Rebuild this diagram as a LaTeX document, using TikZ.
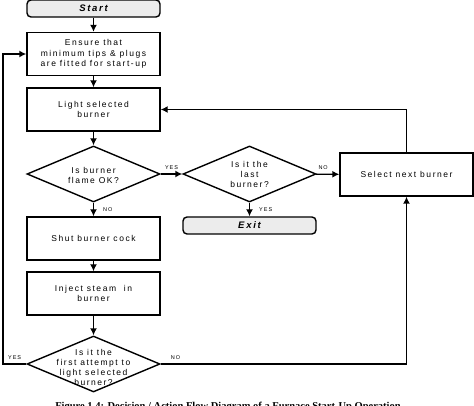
\documentclass[tikz,border=0pt]{standalone}
\usepackage{fontspec}
\setmainfont{Liberation Serif}
\newfontfamily\chartfont[LetterSpace=18]{Liberation Sans}
\usetikzlibrary{shapes.geometric}
\usetikzlibrary{arrows.meta}

\begin{document}
\begin{tikzpicture}[x=1pt, y=-1pt,
    action/.style={draw, line width=1.4pt, minimum width=133pt, minimum height=43pt, inner sep=0pt, align=center, font=\chartfont\fontsize{8.5}{10.5}\selectfont},
    terminal/.style={draw, line width=1.4pt, rounded corners=4pt, fill=gray!15, minimum width=133pt, minimum height=17pt, inner sep=0pt, font=\chartfont\fontsize{9.5}{11}\selectfont\bfseries\itshape},
    decision/.style={draw, diamond, line width=1.4pt, minimum width=133pt, minimum height=56pt, inner sep=0pt},
    question/.style={align=center, inner sep=0pt, font=\chartfont\fontsize{8.5}{10}\selectfont},
    answer/.style={inner sep=0pt, font=\chartfont\fontsize{5.5}{6}\selectfont},
    flow/.style={-{Latex[length=7pt, width=7pt]}, line width=1.4pt}]
    \useasboundingbox (0, 0) rectangle (474, 406);
    % main column
    \node[terminal] (start) at (93.5, 8.5) {Start};
    \node[action] (ensure) at (93.5, 54) {Ensure that\\minimum tips \& plugs\\are fitted for start-up};
    \node[action] (light) at (93.5, 109.5) {Light selected\\burner};
    \node[decision] (flameok) at (93.5, 174) {};
    \node[question] at (93.5, 175) {Is burner\\flame OK?};
    \node[action] (shut) at (93.5, 238.5) {Shut burner cock};
    \node[action] (inject) at (93.5, 293.5) {Inject steam~ in\\burner};
    \node[decision] (firstattempt) at (93.5, 364) {};
    \node[question] at (93.5, 367) {Is it the\\first attempt to\\light selected\\burner?};
    % last burner check
    \node[decision] (lastburner) at (249.5, 174) {};
    \node[question] at (249.5, 174) {Is it the\\last\\burner?};
    \node[terminal] (exitnode) at (249.5, 225.5) {Exit};
    \node[action] (selectnext) at (406.5, 174.5) {Select next burner};
    % rails
    \coordinate (leftrail) at (3, 364);
    \coordinate (rightrail) at (406.5, 364);
    % connectors
    \draw[flow] (start) -- (ensure);
    \draw[flow] (ensure) -- (light);
    \draw[flow] (light) -- (flameok);
    \draw[flow] (flameok) -- node[answer, above=4pt] {YES} (lastburner);
    \draw[flow] (flameok) -- node[answer, right=9pt] {NO} (shut);
    \draw[flow] (lastburner) -- node[answer, above=4pt, pos=0.3] {NO} (selectnext);
    \draw[flow] (lastburner) -- node[answer, right=9pt] {YES} (exitnode);
    \draw[flow] (shut) -- (inject);
    \draw[flow] (inject) -- (firstattempt);
    \draw[flow] (selectnext.north) |- (light.east);
    \draw[flow] (firstattempt.west) -- node[answer, above=4pt] {YES} (leftrail) |- (ensure.west);
    \draw[flow] (firstattempt.east) -- node[answer, above=4pt, pos=0.06] {NO} (rightrail) -- (selectnext.south);
    % caption (cut off at the bottom)
    \node[anchor=base, inner sep=0pt, font=\fontsize{10.5}{12}\selectfont\bfseries] (figcaption) at (228, 409) {Figure 1.4: Decision / Action Flow Diagram of a Furnace Start-Up Operation};
\end{tikzpicture}
\end{document}
